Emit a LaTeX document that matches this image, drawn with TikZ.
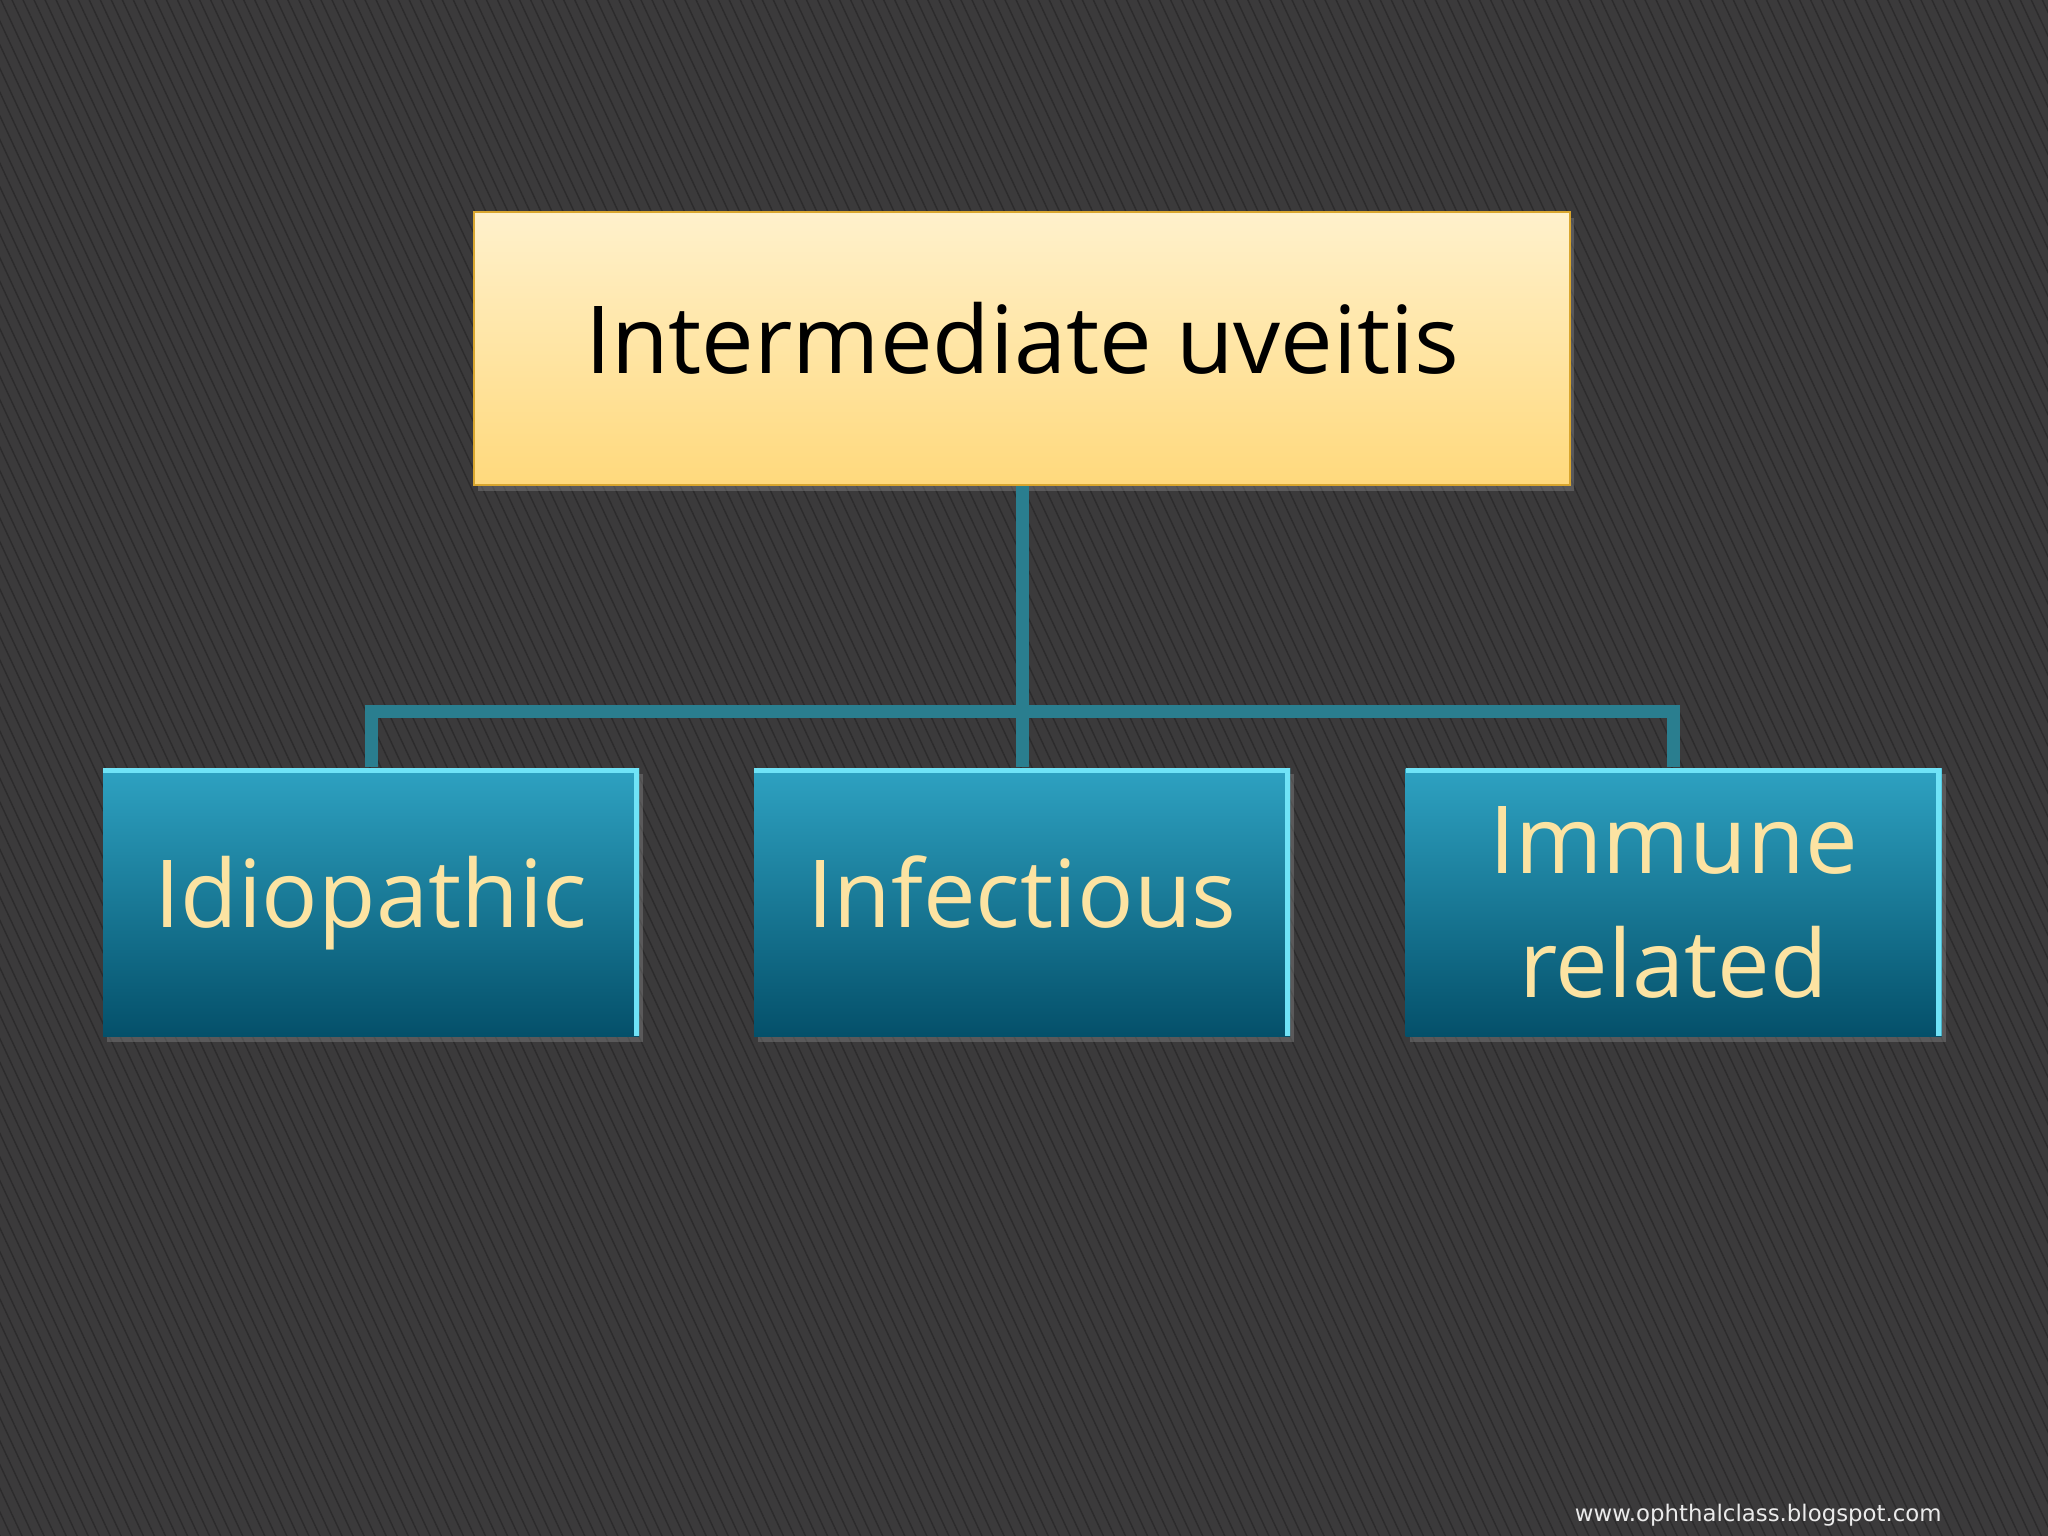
\documentclass[tikz,border=0pt]{standalone}
\usepackage{fontspec}
\setmainfont{Open Sans}
\newfontfamily\urlfont{DejaVu Sans}
\usetikzlibrary{patterns.meta,shadows}

\definecolor{slidebg}{HTML}{3B3A3B}
\definecolor{stripe}{HTML}{2C2B2C}
\definecolor{goldtop}{HTML}{FFF1CC}
\definecolor{goldbot}{HTML}{FFD97C}
\definecolor{goldedge}{HTML}{D9A62E}
\definecolor{tealtop}{HTML}{2EA2C2}
\definecolor{tealbot}{HTML}{04506A}
\definecolor{tealedge}{HTML}{6FE3F7}
\definecolor{connteal}{HTML}{2A7E8F}
\definecolor{creamtext}{HTML}{FCE3A2}

\tikzset{
  rootbox/.style={rectangle, inner sep=0pt, minimum width=10.96cm, minimum height=2.73cm,
    top color=goldtop, bottom color=goldbot, draw=goldedge, line width=0.6pt,
    drop shadow={opacity=0.45, shadow xshift=0.04cm, shadow yshift=-0.06cm},
    font=\fontsize{26.7}{32}\selectfont, text=black},
  causebox/.style={rectangle, inner sep=0pt, minimum width=5.36cm, minimum height=2.68cm,
    top color=tealtop, bottom color=tealbot, align=center,
    drop shadow={opacity=0.45, shadow xshift=0.04cm, shadow yshift=-0.06cm},
    path picture={\draw[tealedge, line width=3pt]
      (path picture bounding box.south east) -- (path picture bounding box.north east)
      -- (path picture bounding box.north west);},
    font=\fontsize{26.7}{35.3}\selectfont, text=creamtext},
  oneline/.style={text height=0.72cm, text depth=0.22cm},
  conn/.style={connteal, line width=0.13cm},
}

\begin{document}
\begin{tikzpicture}
  %%%%% BACKGROUND %%%%%
  \fill[slidebg] (0,0) rectangle (20.48,-15.36);
  \fill[pattern={Lines[angle=115, distance=0.1cm, line width=0.4pt]}, pattern color=stripe]
    (0,0) rectangle (20.48,-15.36);
  \useasboundingbox (0,0) rectangle (20.48,-15.36);

  %%%%% BOXES %%%%%
  \node[rootbox, oneline] (uveitis) at (10.22,-3.485) {Intermediate uveitis};

  \node[causebox, oneline] (idio) at (3.71,-9.02) {Idiopathic};
  \node[causebox, oneline] (infe) at (10.22,-9.02) {Infectious};
  \node[causebox] (immu) at (16.735,-9.02) {Immune\\related};

  %%%%% CONNECTORS %%%%%
  \coordinate (bus) at (10.22,-7.12);
  \draw[conn] (uveitis.south) -- (uveitis.south |- bus) -| (idio.north);
  \draw[conn] (uveitis.south) -- (infe.north);
  \draw[conn] (uveitis.south) -- (uveitis.south |- bus) -| (immu.north);

  \node[text=white!92!black, font=\urlfont\fontsize{6.5}{7.5}\selectfont, anchor=base east]
    (site) at (19.54,-15.21) {www.ophthalclass.blogspot.com};
\end{tikzpicture}
\end{document}
